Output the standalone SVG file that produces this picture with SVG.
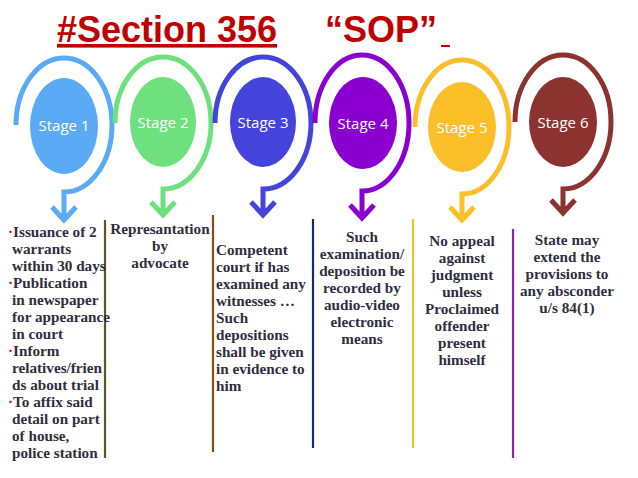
<svg xmlns="http://www.w3.org/2000/svg" width="638" height="478" viewBox="0 0 638 478">
<style>
.t{font-family:"Liberation Sans",Arial,sans-serif;font-size:36px;font-weight:bold;fill:#c00000}
.st{font-family:"Open Sans","Noto Sans",sans-serif;font-size:15px;fill:#fff;text-anchor:middle}
.loop{fill:none;stroke-width:5;stroke-linecap:butt;stroke-linejoin:miter}
.b{font-family:"Liberation Serif","Times New Roman",serif;font-weight:bold;font-size:15.2px;fill:#2e2e3e}
.c{text-anchor:middle}
.r{fill:#d01010}
.v{stroke-width:2.2}
</style>
<rect width="638" height="478" fill="#fff"/>
<text class="t" x="57" y="42" text-decoration="underline">#Section 356</text>
<text class="t" x="325" y="42">“SOP”</text>
<rect x="441" y="45" width="9" height="2" fill="#c00000"/>

<g id="connectors">
<path class="loop" stroke="#5aaaf5" d="M16,125 A48,67 0 1 1 64,192 L64,220 M52,207 L64,220 L76,207"/>
<path class="loop" stroke="#6ee07e" d="M115,123 A48,66 0 1 1 163,189 L163,215 M151,202 L163,215 L175,202"/>
<path class="loop" stroke="#4444dd" d="M215,123 A48,66 0 1 1 263,189 L263,215 M251,202 L263,215 L275,202"/>
<path class="loop" stroke="#8b00d0" d="M315,123 A47,68 0 1 1 362,191 L362,218 M350,205 L362,218 L374,205"/>
<path class="loop" stroke="#fbbf2a" d="M415,127 A47,67 0 1 1 462,194 L462,220 M450,207 L462,220 L474,207"/>
<path class="loop" stroke="#8c3330" d="M515,122 A48,67 0 1 1 563,189 L563,213 M551,200 L563,213 L575,200"/>
<line class="v" x1="105" y1="220" x2="105" y2="458" stroke="#5a5a20"/>
<line class="v" x1="213" y1="215" x2="213" y2="452" stroke="#8a4a10"/>
<line class="v" x1="313" y1="219" x2="313" y2="448" stroke="#1c2a6a"/>
<line class="v" x1="413" y1="219" x2="413" y2="448" stroke="#f0c030"/>
<line class="v" x1="513" y1="229" x2="513" y2="458" stroke="#8a20c0"/>
</g>

<g id="stage1"><ellipse cx="64" cy="126" rx="34" ry="48" fill="#5aaaf5"/><text class="st" x="64" y="131">Stage 1</text></g>
<g id="stage2"><ellipse cx="163" cy="122" rx="33" ry="45" fill="#6ee07e"/><text class="st" x="163" y="128">Stage 2</text></g>
<g id="stage3"><ellipse cx="263" cy="122" rx="33" ry="45" fill="#4444dd"/><text class="st" x="263" y="128">Stage 3</text></g>
<g id="stage4"><ellipse cx="363" cy="123" rx="34" ry="46" fill="#8b00d0"/><text class="st" x="363" y="129">Stage 4</text></g>
<g id="stage5"><ellipse cx="462" cy="127" rx="34" ry="45" fill="#fbbf2a"/><text class="st" x="462" y="133">Stage 5</text></g>
<g id="stage6"><ellipse cx="563" cy="122" rx="34" ry="45" fill="#8c3330"/><text class="st" x="563" y="128">Stage 6</text></g>

<g id="text1"><text class="b" x="8" y="237">
<tspan class="r">·</tspan><tspan>Issuance of 2</tspan>
<tspan x="12" dy="17">warrants</tspan>
<tspan x="12" dy="17">within 30 days</tspan>
<tspan x="8" dy="17" class="r">·</tspan><tspan>Publication</tspan>
<tspan x="12" dy="17">in  newspaper</tspan>
<tspan x="12" dy="17">for appearance</tspan>
<tspan x="12" dy="17">in court</tspan>
<tspan x="8" dy="17" class="r">·</tspan><tspan>Inform</tspan>
<tspan x="12" dy="17">relatives/frien</tspan>
<tspan x="12" dy="17">ds about trial</tspan>
<tspan x="8" dy="17" class="r">·</tspan><tspan>To affix said</tspan>
<tspan x="12" dy="17">detail on part</tspan>
<tspan x="12" dy="17">of house,</tspan>
<tspan x="12" dy="17">police station</tspan>
</text></g>
<g id="text2"><text class="b c" x="160" y="234"><tspan x="160">Represantation</tspan><tspan x="160" dy="17">by</tspan><tspan x="160" dy="17">advocate</tspan></text></g>
<g id="text3"><text class="b" x="216" y="255"><tspan x="216">Competent</tspan><tspan x="216" dy="17">court if has</tspan><tspan x="216" dy="17">examined any</tspan><tspan x="216" dy="17">witnesses …</tspan><tspan x="216" dy="17">Such</tspan><tspan x="216" dy="17">depositions</tspan><tspan x="216" dy="17">shall be given</tspan><tspan x="216" dy="17">in evidence to</tspan><tspan x="216" dy="17">him</tspan></text></g>
<g id="text4"><text class="b c" x="362" y="242"><tspan x="362">Such</tspan><tspan x="362" dy="17">examination/</tspan><tspan x="362" dy="17">deposition be</tspan><tspan x="362" dy="17">recorded by</tspan><tspan x="362" dy="17">audio-video</tspan><tspan x="362" dy="17">electronic</tspan><tspan x="362" dy="17">means</tspan></text></g>
<g id="text5"><text class="b c" x="462" y="246"><tspan x="462">No appeal</tspan><tspan x="462" dy="17">against</tspan><tspan x="462" dy="17">judgment</tspan><tspan x="462" dy="17">unless</tspan><tspan x="462" dy="17">Proclaimed</tspan><tspan x="462" dy="17">offender</tspan><tspan x="462" dy="17">present</tspan><tspan x="462" dy="17">himself</tspan></text></g>
<g id="text6"><text class="b c" x="567" y="245"><tspan x="567">State may</tspan><tspan x="567" dy="17">extend the</tspan><tspan x="567" dy="17">provisions to</tspan><tspan x="567" dy="17">any absconder</tspan><tspan x="567" dy="17">u/s 84(1)</tspan></text></g>
</svg>
